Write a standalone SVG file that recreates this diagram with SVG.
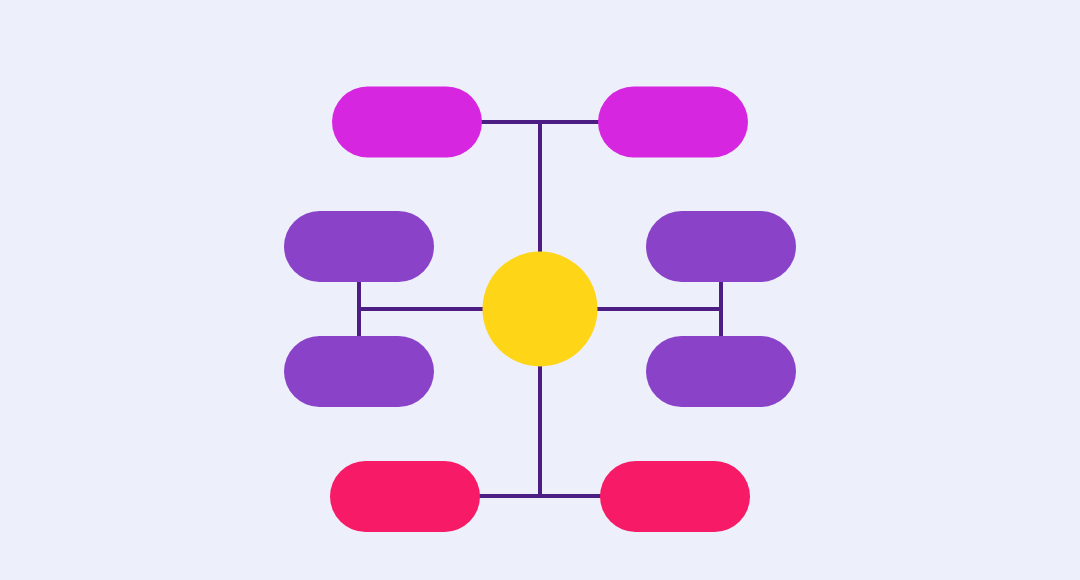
<svg xmlns="http://www.w3.org/2000/svg" width="1080" height="580" viewBox="0 0 1080 580">
<style>
.ln{stroke:#4C1D82;stroke-width:4;fill:none}
.mg{fill:#D726DF}
.pu{fill:#8A43C8}
.rd{fill:#F71A66}
.ye{fill:#FFD517}
</style>
<rect width="1080" height="580" fill="#EDEFFA"/>
<g id="connectors">
<line class="ln" x1="540" y1="122" x2="540" y2="496"/>
<line class="ln" x1="470" y1="122" x2="610" y2="122"/>
<line class="ln" x1="470" y1="496" x2="610" y2="496"/>
<line class="ln" x1="357" y1="309" x2="723" y2="309"/>
<line class="ln" x1="359" y1="270" x2="359" y2="350"/>
<line class="ln" x1="721" y1="270" x2="721" y2="350"/>
</g>
<g id="center"><circle class="ye" cx="540" cy="309" r="57.5"/></g>
<g id="top-left"><rect class="mg" x="332" y="86.5" width="150" height="71" rx="35.5"/></g>
<g id="top-right"><rect class="mg" x="598" y="86.5" width="150" height="71" rx="35.5"/></g>
<g id="mid-left-top"><rect class="pu" x="284" y="211" width="150" height="71" rx="35.5"/></g>
<g id="mid-left-bottom"><rect class="pu" x="284" y="336" width="150" height="71" rx="35.5"/></g>
<g id="mid-right-top"><rect class="pu" x="646" y="211" width="150" height="71" rx="35.5"/></g>
<g id="mid-right-bottom"><rect class="pu" x="646" y="336" width="150" height="71" rx="35.5"/></g>
<g id="bottom-left"><rect class="rd" x="330" y="461" width="150" height="71" rx="35.5"/></g>
<g id="bottom-right"><rect class="rd" x="600" y="461" width="150" height="71" rx="35.5"/></g>
</svg>
